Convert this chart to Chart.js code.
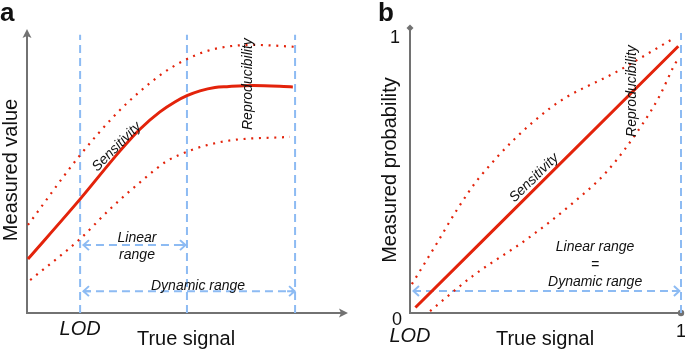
<!DOCTYPE html>
<html><head><meta charset="utf-8">
<script src="https://cdn.jsdelivr.net/npm/chart.js@4.4.1/dist/chart.umd.min.js"></script>
<style>
html,body{margin:0;padding:0;background:#fff;}
#wrap{position:relative;width:685px;height:352px;overflow:hidden;}
canvas{position:absolute;left:0;top:0;}
</style></head><body>
<div id="wrap"><canvas id="ca" width="685" height="352"></canvas><canvas id="cb" width="685" height="352"></canvas></div>
<script>
// ---------- Panel a data (arbitrary units 0..100) ----------
const aSolidX = [0.3, 16.7, 29.2, 35.5, 41.8, 46.5, 50.3, 54.4, 59.1, 62.9, 71.1, 83.6];
const aSolidY = [19.0, 40.1, 57.0, 64.7, 70.8, 74.3, 76.5, 78.2, 79.4, 79.7, 80.1, 79.6];
const aUpperX = [0.3, 16.7, 28.3, 35.5, 42.8, 48.7, 54.4, 60.7, 71.1, 84.9];
const aUpperY = [31.0, 55.6, 70.4, 78.0, 84.5, 88.5, 91.4, 93.4, 94.4, 93.7];
const aLowerX = [1, 16.7, 26.1, 37.1, 44.0, 51.3, 56.6, 64.8, 82.7];
const aLowerY = [11.6, 26.1, 36.6, 47.5, 53.5, 57.2, 59.1, 60.9, 62.0];
const aMarkers = [16.7, 50.3, 84.3];          // LOD, end of linear range, end of dynamic range
const aMarkerTop = 98;
const aLinearRange = [17.6, 50.0, 23.9];      // from, to, level
const aDynamicRange = [17.6, 84.3, 7.7];

// ---------- Panel b data (0..1) ----------
const bSolidX = [0.02, 0.99];
const bSolidY = [0.02, 0.97];
const bUpperX = [0.007, 0.10, 0.173, 0.258, 0.517, 0.775, 0.975];
const bUpperY = [0.105, 0.255, 0.375, 0.495, 0.745, 0.884, 1.0];
const bLowerX = [0.074, 0.232, 0.432, 0.601, 0.727, 0.856, 0.923, 0.970, 0.989];
const bLowerY = [0.007, 0.135, 0.269, 0.400, 0.515, 0.684, 0.793, 0.891, 0.925];
const bMarkers = [1.0];
const bMarkerTop = 1.018;
const bRange = [0.011, 0.996, 0.08];
const bTicks = ['0', '1', 'LOD', '1'];

const RED = '#e3230b', BLUE = '#8dbbf3', GRAY = '#727272', TXT = '#111111';
const FONT = '"Liberation Sans", Arial, Helvetica, sans-serif';

function pts(xs, ys){ return xs.map((x,i)=>({x:x, y:ys[i]})); }
function solid(xs, ys){ return {data:pts(xs,ys), borderColor:RED, borderWidth:3, pointRadius:0, cubicInterpolationMode:'monotone', fill:false, clip:false}; }
function dotted(xs, ys){ return {data:pts(xs,ys), borderColor:RED, borderWidth:2.2, borderDash:[2,5.7], pointRadius:0, cubicInterpolationMode:'monotone', fill:false, clip:false}; }
function vline(x, top){ return {data:[{x:x,y:0},{x:x,y:top}], borderColor:BLUE, borderWidth:2, borderDash:[8,5], pointRadius:0, fill:false, clip:false}; }
function hArrow(r){ return {data:[{x:r[0],y:r[2]},{x:r[1],y:r[2]}], borderColor:BLUE, borderWidth:2, borderDash:[8,5], pointRadius:0, fill:false, clip:false, arrow:true}; }

function txt(ctx, s, x, y, font, rot, color, align){
  ctx.save();
  ctx.translate(x, y);
  if (rot) ctx.rotate(rot*Math.PI/180);
  ctx.font = font; ctx.fillStyle = color || TXT;
  ctx.textAlign = align || 'center'; ctx.textBaseline = 'middle';
  ctx.fillText(s, 0, 0);
  ctx.restore();
}

const annot = {
  id: 'annot',
  beforeDatasetsDraw(chart, args, o){
    const ctx = chart.ctx, ca = chart.chartArea;
    ctx.save();
    ctx.strokeStyle = GRAY; ctx.fillStyle = GRAY; ctx.lineWidth = 2;
    const x0 = ca.left, y0 = ca.bottom, yTop = ca.top - o.yOver, xEnd = ca.right + o.xOver;
    ctx.beginPath();
    ctx.moveTo(x0, y0); ctx.lineTo(x0, yTop + (o.style==='arrow' ? 5 : 0));
    ctx.moveTo(x0 - 1, y0); ctx.lineTo(xEnd - (o.style==='arrow' ? 5 : 0), y0);
    ctx.stroke();
    if (o.style === 'arrow') {
      ctx.beginPath(); ctx.moveTo(x0, yTop); ctx.lineTo(x0-4.5, yTop+9); ctx.lineTo(x0, yTop+7); ctx.lineTo(x0+4.5, yTop+9); ctx.closePath(); ctx.fill();
      ctx.beginPath(); ctx.moveTo(xEnd, y0); ctx.lineTo(xEnd-9, y0-4.5); ctx.lineTo(xEnd-7, y0); ctx.lineTo(xEnd-9, y0+4.5); ctx.closePath(); ctx.fill();
    } else {
      ctx.beginPath(); ctx.moveTo(x0, yTop-3.5); ctx.lineTo(x0+3.5, yTop); ctx.lineTo(x0, yTop+3.5); ctx.lineTo(x0-3.5, yTop); ctx.closePath(); ctx.fill();
      ctx.beginPath(); ctx.arc(xEnd, y0, 3.2, 0, Math.PI*2); ctx.fill();
    }
    ctx.restore();
  },
  afterDatasetsDraw(chart, args, o){
    const ctx = chart.ctx, xs = chart.scales.x, ys = chart.scales.y;
    chart.data.datasets.forEach((ds, i) => {
      if (!ds.arrow) return;
      const m = chart.getDatasetMeta(i).data;
      const a = m[0], b = m[m.length-1];
      ctx.save(); ctx.strokeStyle = BLUE; ctx.lineWidth = 2; ctx.setLineDash([]);
      ctx.beginPath();
      ctx.moveTo(a.x+6, a.y-5); ctx.lineTo(a.x+0.5, a.y); ctx.lineTo(a.x+6, a.y+5);
      ctx.moveTo(a.x, a.y); ctx.lineTo(a.x+8, a.y);
      ctx.moveTo(b.x-6, b.y-5); ctx.lineTo(b.x-0.5, b.y); ctx.lineTo(b.x-6, b.y+5);
      ctx.moveTo(b.x, b.y); ctx.lineTo(b.x-8, b.y);
      ctx.stroke(); ctx.restore();
    });
    (o.texts || []).forEach(t => {
      const px = t.px !== undefined ? t.px : xs.getPixelForValue(t.x);
      const py = t.py !== undefined ? t.py : ys.getPixelForValue(t.y);
      txt(ctx, t.s, px, py, t.font, t.rot, t.color, t.align);
    });
  }
};

const IT14 = 'italic 14px ' + FONT;
const common = (pad, xmax, ymax, texts, axes) => ({
  responsive:false, animation:false, devicePixelRatio:1,
  layout:{padding:pad},
  scales:{
    x:{type:'linear', min:0, max:xmax, display:false},
    y:{type:'linear', min:0, max:ymax, display:false}
  },
  plugins:{legend:{display:false}, tooltip:{enabled:false},
    annot:Object.assign({texts:texts}, axes)}
});

// Panel a
new Chart(document.getElementById('ca'), {
  type:'line',
  data:{datasets:[
    solid(aSolidX, aSolidY), dotted(aUpperX, aUpperY), dotted(aLowerX, aLowerY),
    ...aMarkers.map(x => vline(x, aMarkerTop)),
    hArrow(aLinearRange), hArrow(aDynamicRange)
  ]},
  options: common({left:27, right:340, top:29, bottom:39}, 100, 100, [
    {s:'a', px:0, py:14, font:'bold 26px '+FONT, align:'left'},
    {s:'Measured value', px:11, py:170, font:'20px '+FONT, rot:-90},
    {s:'True signal', px:186, py:339, font:'20px '+FONT},
    {s:'LOD', x:aMarkers[0], py:329, font:'italic 20px '+FONT},
    {s:'Linear', x:34.6, y:26.4, font:IT14},
    {s:'range', x:34.6, y:20.4, font:IT14},
    {s:'Dynamic range', x:53.8, y:9.5, font:IT14},
    {s:'Sensitivity', x:28.2, y:58.5, font:IT14, rot:-45},
    {s:'Reproducibility', x:69.5, y:80.6, font:IT14, rot:-90}
  ], {style:'arrow', yOver:0, xOver:3}),
  plugins:[annot]
});

// Panel b
new Chart(document.getElementById('cb'), {
  type:'line',
  data:{datasets:[
    solid(bSolidX, bSolidY), dotted(bUpperX, bUpperY), dotted(bLowerX, bLowerY),
    ...bMarkers.map(x => vline(x, bMarkerTop)),
    hArrow(bRange)
  ]},
  options: common({left:410, right:4, top:38, bottom:39}, 1, 1, [
    {s:'b', px:378, py:14, font:'bold 26px '+FONT, align:'left'},
    {s:'Measured probability', px:390, py:170, font:'20px '+FONT, rot:-90},
    {s:'True signal', px:545, py:339, font:'20px '+FONT},
    {s:bTicks[0], px:397, py:320, font:'18px '+FONT},
    {s:bTicks[1], px:395, py:38.5, font:'18px '+FONT},
    {s:bTicks[2], x:0, py:336, font:'italic 20px '+FONT},
    {s:bTicks[3], x:1, py:332, font:'18px '+FONT},
    {s:'Linear range', x:0.683, y:0.24, font:IT14},
    {s:'=', x:0.683, y:0.175, font:IT14},
    {s:'Dynamic range', x:0.683, y:0.113, font:IT14},
    {s:'Sensitivity', x:0.458, y:0.491, font:IT14, rot:-44.6},
    {s:'Reproducibility', x:0.819, y:0.807, font:IT14, rot:-90}
  ], {style:'dot', yOver:10, xOver:0}),
  plugins:[annot]
});
</script>
</body></html>
